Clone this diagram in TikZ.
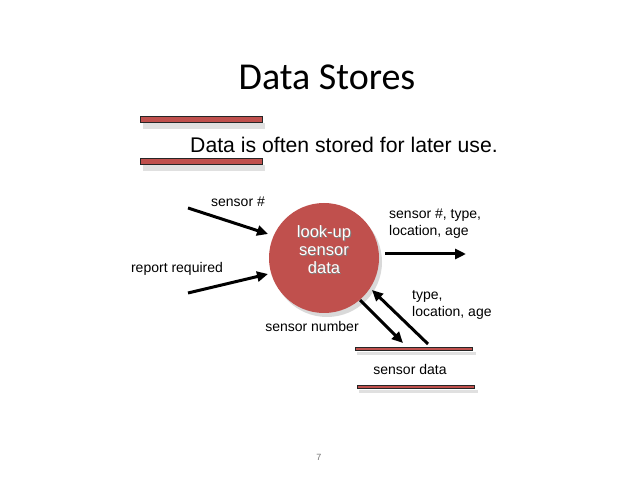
\documentclass[tikz,border=0pt]{standalone}
\usepackage{fontspec}
\setmainfont{Liberation Sans}
\newfontfamily\titlefont{Carlito}
\usetikzlibrary{arrows.meta}
\definecolor{pred}{RGB}{192,80,77}
\begin{document}
\begin{tikzpicture}[x=1pt,y=-1pt,
  lbl/.style={font=\fontsize{14}{16}\selectfont,inner sep=0pt},
  arr/.style={line width=3pt,-{Triangle[length=11pt,width=10pt]}},
  bar/.style={fill=pred,draw=black!85,line width=1pt},
  sbar/.style={fill=black!12,draw=none}]
\useasboundingbox (0,0) rectangle (638,478);
\node (title) at (327,77) {\titlefont\fontsize{38}{42}\selectfont Data Stores};
\fill[black!12] (143,123) rectangle (265,129);
\draw[bar] (140,117) rectangle (262,123);
\fill[black!12] (143,165) rectangle (265,171);
\draw[bar] (140,159) rectangle (262,165);
\node (sub) at (344,145) {\fontsize{21.2}{25}\selectfont Data is often stored for later use.};
\fill[black!15] (327,262) circle (55);
\node[circle,minimum size=110pt,fill=pred,draw=none] (p) at (324,258) {};
\node[align=center,text=black!50,font=\fontsize{16.5}{18}\selectfont] at (325,251) {look-up\\sensor\\data};
\node[align=center,text=white,font=\fontsize{16.5}{18}\selectfont] at (324,250) {look-up\\sensor\\data};
\coordinate (a1) at (188,208);
\coordinate (a2) at (188,293);
\coordinate (a3) at (466,254);
\draw[arr] (a1) -- (268,234);
\draw[arr] (a2) -- (268,274);
\draw[arr] (385,254) -- (a3);
\fill[black!12] (357,352) rectangle (476,355);
\draw[bar] (355,348) rectangle (472,351);
\fill[black!12] (359,390) rectangle (478,393);
\draw[bar] (357,386) rectangle (474,389);
\coordinate (s1) at (403,343);
\coordinate (s2) at (428,344);
\draw[arr] (360,300) -- (s1);
\draw[arr] (s2) -- (372,290);
\node[lbl] (l1) at (238,202) {sensor \#};
\node[lbl] (l2) at (177,269) {report required};
\node[lbl,anchor=west] (l3) at (389,215) {sensor \#, type,};
\node[lbl,anchor=west] (l4) at (389,232) {location, age};
\node[lbl,anchor=west] (l5) at (412,296) {type,};
\node[lbl,anchor=west] (l6) at (412,313) {location, age};
\node[lbl] (l7) at (312,326) {sensor number};
\node[lbl] (l8) at (410,369) {sensor data};
\node[text=black!55,font=\fontsize{9}{10}\selectfont] (pg) at (319,457) {7};
\end{tikzpicture}
\end{document}
